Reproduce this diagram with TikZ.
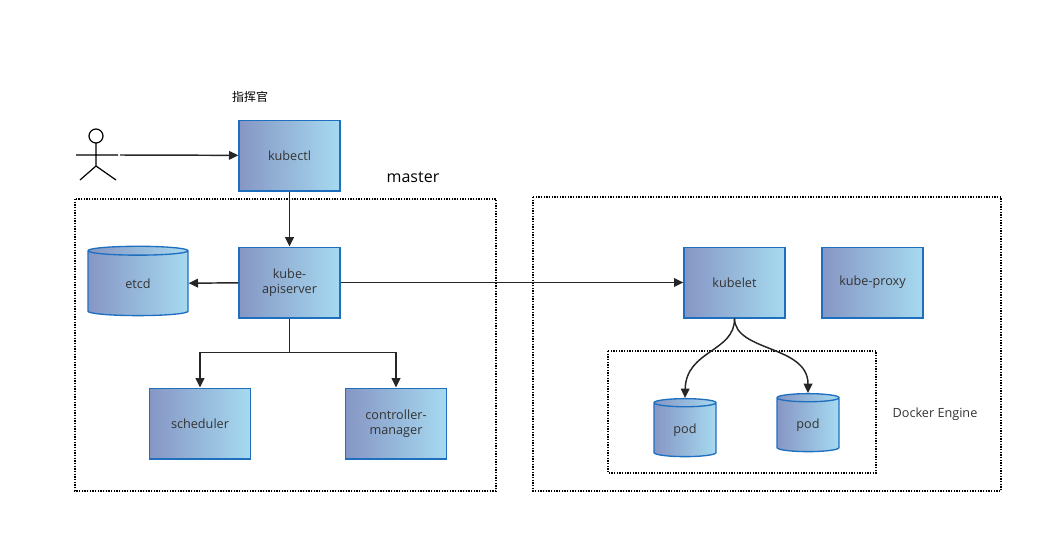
\documentclass[tikz,border=0pt]{standalone}
\usepackage{fontspec}
\setmainfont{Open Sans}
\newfontfamily\cjk{Noto Sans CJK SC}
\usetikzlibrary{shapes.geometric,arrows.meta}
\definecolor{bd}{HTML}{1F6FC0}
\definecolor{dk}{HTML}{8696C4}
\definecolor{lt}{HTML}{A6DAF0}
\begin{document}
\begin{tikzpicture}[x=0.75pt,y=-0.75pt,
 box/.style={draw=bd,line width=1pt,left color=dk,right color=lt,minimum width=75.75pt,minimum height=53pt,inner sep=1pt,align=center,font=\fontsize{9.5}{11}\selectfont,text=black!80},
 cyl/.style={cylinder,shape border rotate=90,draw=bd,line width=1pt,left color=dk,right color=lt,aspect=0.35,inner sep=0pt,font=\fontsize{9.5}{11}\selectfont,text=black!80},
 arr/.style={-{Triangle[length=7pt,width=6.5pt]},line width=1.1pt,draw=black!85},
 dbox/.style={densely dotted,line width=1pt}]
\useasboundingbox (0,0) rectangle (1063,553);
\node[font=\cjk\fontsize{9}{10}\selectfont] (cmd) at (250,97) {指挥官};
% stick figure
\draw[line width=0.9pt] (96,136) circle (7);
\draw[line width=0.9pt] (96,143)--(96,166) (76,155)--(118,155) (96,166)--(80,180) (96,166)--(116,180);
\coordinate (man) at (120,155);
\node[box] (kubectl) at (289.5,155.5) {kubectl};
\node[font=\fontsize{12}{14}\selectfont] (master) at (413,177) {master};
\draw[dbox] (75,199) rectangle (496,491);
\draw[dbox] (533,197) rectangle (1001,491);
\draw[dbox] (608,351) rectangle (876,473);
\node[box] (api) at (289.5,282.5) {kube-\\apiserver};
\node[cyl,minimum width=75pt,minimum height=52pt] (etcd) at (138,283.5) {etcd};
\node[box] (sched) at (200,423.5) {scheduler};
\node[box] (cm) at (396,423.5) {controller-\\manager};
\node[box] (kubelet) at (734.5,282.5) {kubelet};
\node[box] (proxy) at (872.5,282.5) {kube-proxy};
\node[cyl,minimum width=46.5pt,minimum height=43.5pt] (pod1) at (685,430) {pod};
\node[cyl,minimum width=46.5pt,minimum height=43.5pt] (pod2) at (808,425) {pod};
\node[font=\fontsize{9.5}{11}\selectfont,text=black!80] (de) at (935,414) {Docker Engine};
\draw[arr] (man) -- (kubectl);
\draw[arr] (kubectl) -- (api);
\draw[arr] (api) -- (etcd);
\draw[arr] (api) -- (kubelet);
\draw[arr] (api.south) -- ++(0,34) -| (sched.north);
\draw[arr] (api.south) -- ++(0,34) -| (cm.north);
\draw[arr] (kubelet.south) .. controls (735,352) and (686,350) .. (pod1.north);
\draw[arr] (kubelet.south) .. controls (735,352) and (808,345) .. (pod2.north);
\end{tikzpicture}
\end{document}
